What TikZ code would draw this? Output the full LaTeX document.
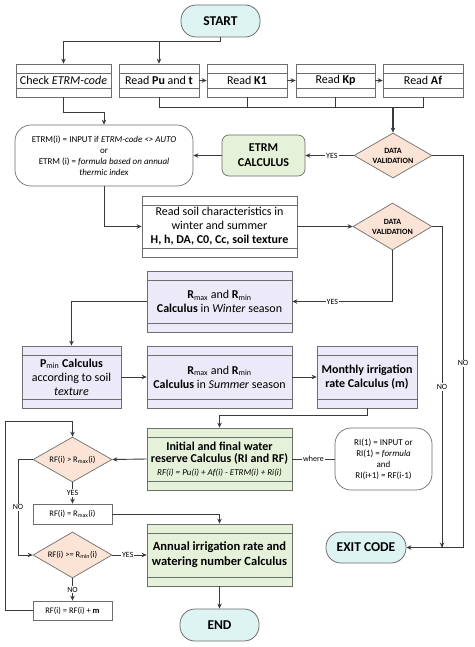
\documentclass[tikz,border=0pt]{standalone}
\usepackage{fontspec}
\setmainfont{Carlito}
\usetikzlibrary{arrows.meta,shapes.geometric,calc}
\definecolor{linec}{HTML}{3A3A3A}
\definecolor{borderc}{HTML}{6E6E6E}
\definecolor{cyanf}{HTML}{DDF4F2}
\definecolor{greenf}{HTML}{E6F1D9}
\definecolor{lavf}{HTML}{ECEAF8}
\definecolor{peachf}{HTML}{FBE4D6}
\tikzset{
  every node/.style={inner sep=0pt, align=center, text=black},
  conn/.style={draw=linec, line width=0.9pt},
  arr/.style={conn, -{Stealth[length=5pt,width=4.5pt]}},
  band/.style={draw=borderc, line width=0.7pt, rectangle,
    path picture={
      \draw[borderc, line width=0.7pt] ([yshift=-9pt]path picture bounding box.north west) -- ([yshift=-9pt]path picture bounding box.north east);
      \draw[borderc, line width=0.7pt] ([yshift=9pt]path picture bounding box.south west) -- ([yshift=9pt]path picture bounding box.south east);
    }},
  term/.style={draw=borderc, line width=0.8pt, fill=cyanf, rounded corners=15pt, font=\fontsize{13.5}{15}\selectfont\bfseries},
  dec/.style={draw=borderc, line width=0.7pt, fill=peachf, diamond, aspect=1.7},
  plain/.style={draw=borderc, line width=0.7pt, rectangle, fill=white},
  roundbox/.style={draw=borderc, line width=0.7pt, rounded corners=16pt, fill=white},
  lbl/.style={fill=white, inner sep=1pt, font=\fontsize{8}{9}\selectfont},
  bigt/.style={font=\fontsize{12}{14}\selectfont},
  smallt/.style={font=\fontsize{9}{11}\selectfont},
  dect/.style={font=\fontsize{8.5}{10}\selectfont},
  dvt/.style={font=\fontsize{8}{10}\selectfont\bfseries},
}
\begin{document}
\begin{tikzpicture}[x=1pt,y=-1pt]
\useasboundingbox (0,0) rectangle (474,647);
\fill[white] (0,0) rectangle (474,647);

% nodes
\node[term, minimum width=79pt, minimum height=32pt] (start) at (220.5,21) {START};
\node[band, bigt, fill=white, minimum width=95pt, minimum height=33pt] (check) at (63.5,80.5) {Check \textit{ETRM-code}};
\node[band, bigt, fill=white, minimum width=80pt, minimum height=33pt] (readpu) at (159,80.5) {Read \textbf{Pu} and \textbf{t}};
\node[band, bigt, fill=white, minimum width=80pt, minimum height=33pt] (readk1) at (247,80.5) {Read \textbf{K1}};
\node[band, bigt, fill=white, minimum width=79pt, minimum height=33pt] (readkp) at (335.5,80.5) {Read \textbf{Kp}};
\node[band, bigt, fill=white, minimum width=80pt, minimum height=33pt] (readaf) at (423,80.5) {Read \textbf{Af}};

\node[roundbox, smallt, minimum width=178pt, minimum height=61pt] (etrmi) at (104,155.5)
  {ETRM(i) = INPUT if \textit{ETRM-code <> AUTO}\\or\\ETRM (i) = \textit{formula based on annual}\\\textit{thermic index}};
\node[draw=borderc, line width=0.7pt, fill=greenf, rounded corners=7pt, minimum width=83pt, minimum height=41pt,
  font=\fontsize{12}{15}\selectfont\bfseries] (etrmcalc) at (263.5,155.5) {ETRM\\CALCULUS};
\node[dec, minimum width=78pt, minimum height=45pt] (dv1) at (393,155.5) {};
\node[dvt] at (dv1) {DATA\\VALIDATION};

\node[band, bigt, fill=white, minimum width=155pt, minimum height=61pt] (soil) at (219.5,226.5)
  {Read soil characteristics in\\winter and summer\\\textbf{H, h, DA, C0, Cc, soil texture}};
\node[dec, minimum width=79pt, minimum height=47pt] (dv2) at (392.5,226.5) {};
\node[dvt] at (dv2) {DATA\\VALIDATION};

\node[band, bigt, fill=lavf, minimum width=145pt, minimum height=61pt] (winter) at (219.5,301.5)
  {\textbf{R}\textsubscript{max} and \textbf{R}\textsubscript{min}\\\textbf{Calculus} in \textit{Winter} season};
\node[band, bigt, fill=lavf, minimum width=99pt, minimum height=62pt] (pmin) at (71.5,377)
  {\textbf{P}\textsubscript{min} \textbf{Calculus}\\according to soil\\\textit{texture}};
\node[band, bigt, fill=lavf, minimum width=145pt, minimum height=62pt] (summer) at (219.5,377)
  {\textbf{R}\textsubscript{max} and \textbf{R}\textsubscript{min}\\\textbf{Calculus} in \textit{Summer} season};
\node[band, fill=lavf, minimum width=100pt, minimum height=62pt, font=\fontsize{12}{14}\selectfont\bfseries] (monthly) at (367,377)
  {Monthly irrigation\\rate Calculus (m)};

\node[band, fill=greenf, minimum width=145pt, minimum height=62pt] (initial) at (219.5,459)
  {{\fontsize{12}{14}\selectfont\bfseries Initial and final water}\\{\fontsize{12}{14}\selectfont\bfseries reserve Calculus (RI and RF)}\\[1pt]{\fontsize{9}{11}\selectfont\itshape RF(i) = Pu(i) + Af(i) - ETRM(i) + Ri(i)}};
\node[roundbox, smallt, minimum width=97pt, minimum height=62pt] (ri) at (383.5,459)
  {RI(1) = INPUT or\\RI(1) = \textit{formula}\\and\\RI(i+1) = RF(i-1)};

\node[dec, minimum width=79pt, minimum height=45pt] (d3) at (72.5,459.5) {};
\node[dect] at (d3) {RF(i) > R\textsubscript{max}(i)};
\node[plain, dect, minimum width=79pt, minimum height=20pt] (rfmax) at (72.5,514) {RF(i) = R\textsubscript{max}(i)};
\node[band, fill=greenf, minimum width=145pt, minimum height=62pt, font=\fontsize{12.5}{15}\selectfont\bfseries] (annual) at (219.5,555)
  {Annual irrigation rate and\\watering number Calculus};
\node[dec, minimum width=79pt, minimum height=46pt] (d4) at (72.5,555) {};
\node[dect] at (d4) {RF(i) >= R\textsubscript{min}(i)};
\node[plain, dect, minimum width=79pt, minimum height=19pt] (rfm) at (72.5,610.5) {RF(i) = RF(i) + \textbf{m}};
\node[term, minimum width=79pt, minimum height=32pt] (end) at (219.5,625) {END};
\node[term, minimum width=80pt, minimum height=31pt] (exit) at (366,547.5) {EXIT CODE};

% junction coordinates
\coordinate (j1) at (220.5,41);
\coordinate (bus) at (0,107);
\coordinate (j2) at (0,112);
\coordinate (m1) at (463,155.5);
\coordinate (m2) at (442,547.5);
\coordinate (loopx) at (5,421);
\coordinate (leftx) at (18,459.5);

% connectors
\draw[arr] (start.south) -- (j1) -| (check.north);
\draw[arr] (j1) -| (readpu.north);
\draw[arr] (readpu.east) -- (readk1.west);
\draw[arr] (readk1.east) -- (readkp.west);
\draw[arr] (readkp.east) -- (readaf.west);
\draw[conn] (readpu.south) -- (readpu.south |- bus) -- (readaf.south |- bus) -- (readaf.south);
\draw[conn] (readk1.south) -- (readk1.south |- bus);
\draw[conn] (readkp.south) -- (readkp.south |- bus);
\draw[arr, line width=1.3pt] (dv1.north |- bus) -- (dv1.north);
\draw[arr] (check.south) -- (check.south |- j2) -- (etrmi.north |- j2) -- (etrmi.north);

\draw[arr] (dv1.west) -- node[lbl, pos=0.45] {YES} (etrmcalc.east);
\draw[arr] (etrmcalc.west) -- (etrmi.east);
\draw[arr] (dv1.east) -- (m1) -- node[lbl, pos=0.53] {NO} (m1 |- exit.east) -- (exit.east);

\draw[arr] (etrmi.south) |- (soil.west);
\draw[arr] (soil.east) -- (dv2.west);
\draw[conn] (dv2.east) -| (m2);
\draw[arr] (dv2.east -| m2) -- node[lbl, pos=0.5] {NO} (m2);
\draw[arr] (dv2.south) |- node[lbl, pos=0.8] {YES} (winter.east);
\draw[arr] (winter.west) -| (pmin.north);
\draw[arr] (pmin.east) -- (summer.west);
\draw[arr] (summer.east) -- (monthly.west);
\draw[arr] (monthly.south) -- ++(0,7) -| (initial.north);
\draw[conn] (initial.east) -- node[lbl] {where} (ri.west);
\draw[arr] (initial.west) -- (d3.east);
\draw[arr] (d3.south) -- node[lbl, pos=0.5] {YES} (rfmax.north);
\draw[arr] (rfmax.east) -| (annual.north);
\draw[arr] (d3.west) -- (leftx) -- node[lbl, pos=0.5] {NO} (leftx |- d4.west) -- (d4.west);
\draw[arr] (d4.east) -- node[lbl, pos=0.45] {YES} (annual.west);
\draw[arr] (d4.south) -- node[lbl, pos=0.5] {NO} (rfm.north);
\draw[arr] (rfm.west) -- (rfm.west -| loopx) -- (loopx) -- (loopx -| d3.north) -- (d3.north);
\draw[arr] (annual.south) -- (end.north);
\end{tikzpicture}
\end{document}
